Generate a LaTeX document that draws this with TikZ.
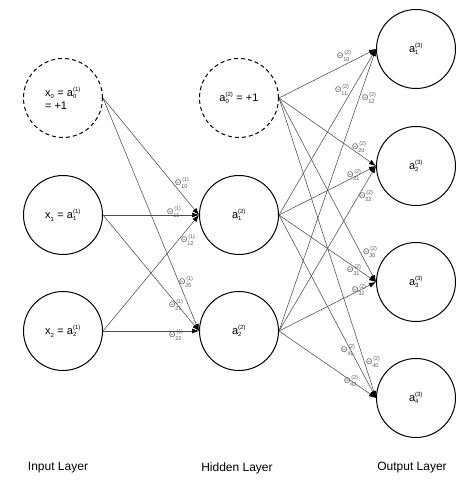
\documentclass[tikz,border=0pt]{standalone}
\usepackage{fontspec}
\setmainfont{Liberation Sans}
\usetikzlibrary{arrows.meta}
\tikzset{
    neuron/.style={circle, draw, line width=1pt, minimum size=79pt, inner sep=0pt,
        font=\fontsize{11}{13}\selectfont},
    bias/.style={neuron, dash pattern=on 4pt off 3pt},
    weight/.style={draw=black!70, line width=0.55pt, -{Latex[length=7pt, width=5pt, color=black]}},
    wlabel/.style={anchor=base west, inner sep=0pt, text=black!65, font=\fontsize{8}{9}\selectfont},
    layer/.style={font=\fontsize{12}{14}\selectfont}
}
\newcommand{\unitlab}[3]{#1$_{\mbox{\fontsize{6}{6}\selectfont #2}}^{\mbox{\fontsize{6}{6}\selectfont #3}}$}
\newcommand{\wlab}[2]{Θ$_{\mbox{\fontsize{5.5}{6}\selectfont #1}}^{\mbox{\fontsize{5.5}{6}\selectfont \,(#2)}}$}

\begin{document}
\begin{tikzpicture}[x=1pt, y=-1pt]
\useasboundingbox (0,0) rectangle (474,493);

% input layer
\node[bias, align=left] (in0) at (63,98) {\unitlab{x}{0}{} = \unitlab{a}{0}{(1)}\\= +1};
\node[neuron] (in1) at (63,215) {\unitlab{x}{1}{} = \unitlab{a}{1}{(1)}};
\node[neuron] (in2) at (63,331) {\unitlab{x}{2}{} = \unitlab{a}{2}{(1)}};

% hidden layer
\node[bias] (hid0) at (239,98) {\unitlab{a}{0}{(2)} = +1};
\node[neuron] (hid1) at (239,215) {\unitlab{a}{1}{(2)}};
\node[neuron] (hid2) at (239,331) {\unitlab{a}{2}{(2)}};

% output layer
\node[neuron] (out1) at (416,49) {\unitlab{a}{1}{(3)}};
\node[neuron] (out2) at (416,166) {\unitlab{a}{2}{(3)}};
\node[neuron] (out3) at (416,282) {\unitlab{a}{3}{(3)}};
\node[neuron] (out4) at (416,398) {\unitlab{a}{4}{(3)}};

\draw[weight] (in0.east) -- (hid1.west);
\draw[weight] (in0.east) -- (hid2.west);
\draw[weight] (in1.east) -- (hid1.west);
\draw[weight] (in1.east) -- (hid2.west);
\draw[weight] (in2.east) -- (hid1.west);
\draw[weight] (in2.east) -- (hid2.west);

\draw[weight] (hid0.east) -- (out1.west);
\draw[weight] (hid0.east) -- (out2.west);
\draw[weight] (hid0.east) -- (out3.west);
\draw[weight] (hid0.east) -- (out4.west);
\draw[weight] (hid1.east) -- (out1.west);
\draw[weight] (hid1.east) -- (out2.west);
\draw[weight] (hid1.east) -- (out3.west);
\draw[weight] (hid1.east) -- (out4.west);
\draw[weight] (hid2.east) -- (out1.west);
\draw[weight] (hid2.east) -- (out2.west);
\draw[weight] (hid2.east) -- (out3.west);
\draw[weight] (hid2.east) -- (out4.west);

% weights
\node[wlabel] (w1-10) at (175,185.6) {\wlab{10}{1}};
\node[wlabel] (w1-11) at (167,214.6) {\wlab{11}{1}};
\node[wlabel] (w1-12) at (181,242.6) {\wlab{12}{1}};
\node[wlabel] (w1-20) at (179,284.6) {\wlab{20}{1}};
\node[wlabel] (w1-21) at (169,307.6) {\wlab{21}{1}};
\node[wlabel] (w1-22) at (169,337.6) {\wlab{22}{1}};

\node[wlabel] (w2-10) at (337,58.6) {\wlab{10}{2}};
\node[wlabel] (w2-11) at (335,92.6) {\wlab{11}{2}};
\node[wlabel] (w2-12) at (362,100.6) {\wlab{12}{2}};
\node[wlabel] (w2-20) at (352,149.6) {\wlab{20}{2}};
\node[wlabel] (w2-21) at (347,177.6) {\wlab{21}{2}};
\node[wlabel] (w2-22) at (359,198.6) {\wlab{22}{2}};
\node[wlabel] (w2-30) at (363,254.6) {\wlab{30}{2}};
\node[wlabel] (w2-31) at (347,272.6) {\wlab{31}{2}};
\node[wlabel] (w2-32) at (352,292.6) {\wlab{32}{2}};
\node[wlabel] (w2-41) at (341,352.6) {\wlab{41}{2}};
\node[wlabel] (w2-40) at (366,364.6) {\wlab{40}{2}};
\node[wlabel] (w2-42) at (344,383.6) {\wlab{42}{2}};

% layer names
\node[layer] (inlabel) at (58,468) {Input Layer};
\node[layer] (hidlabel) at (237,468) {Hidden Layer};
\node[layer] (outlabel) at (412,468) {Output Layer};
\end{tikzpicture}
\end{document}
